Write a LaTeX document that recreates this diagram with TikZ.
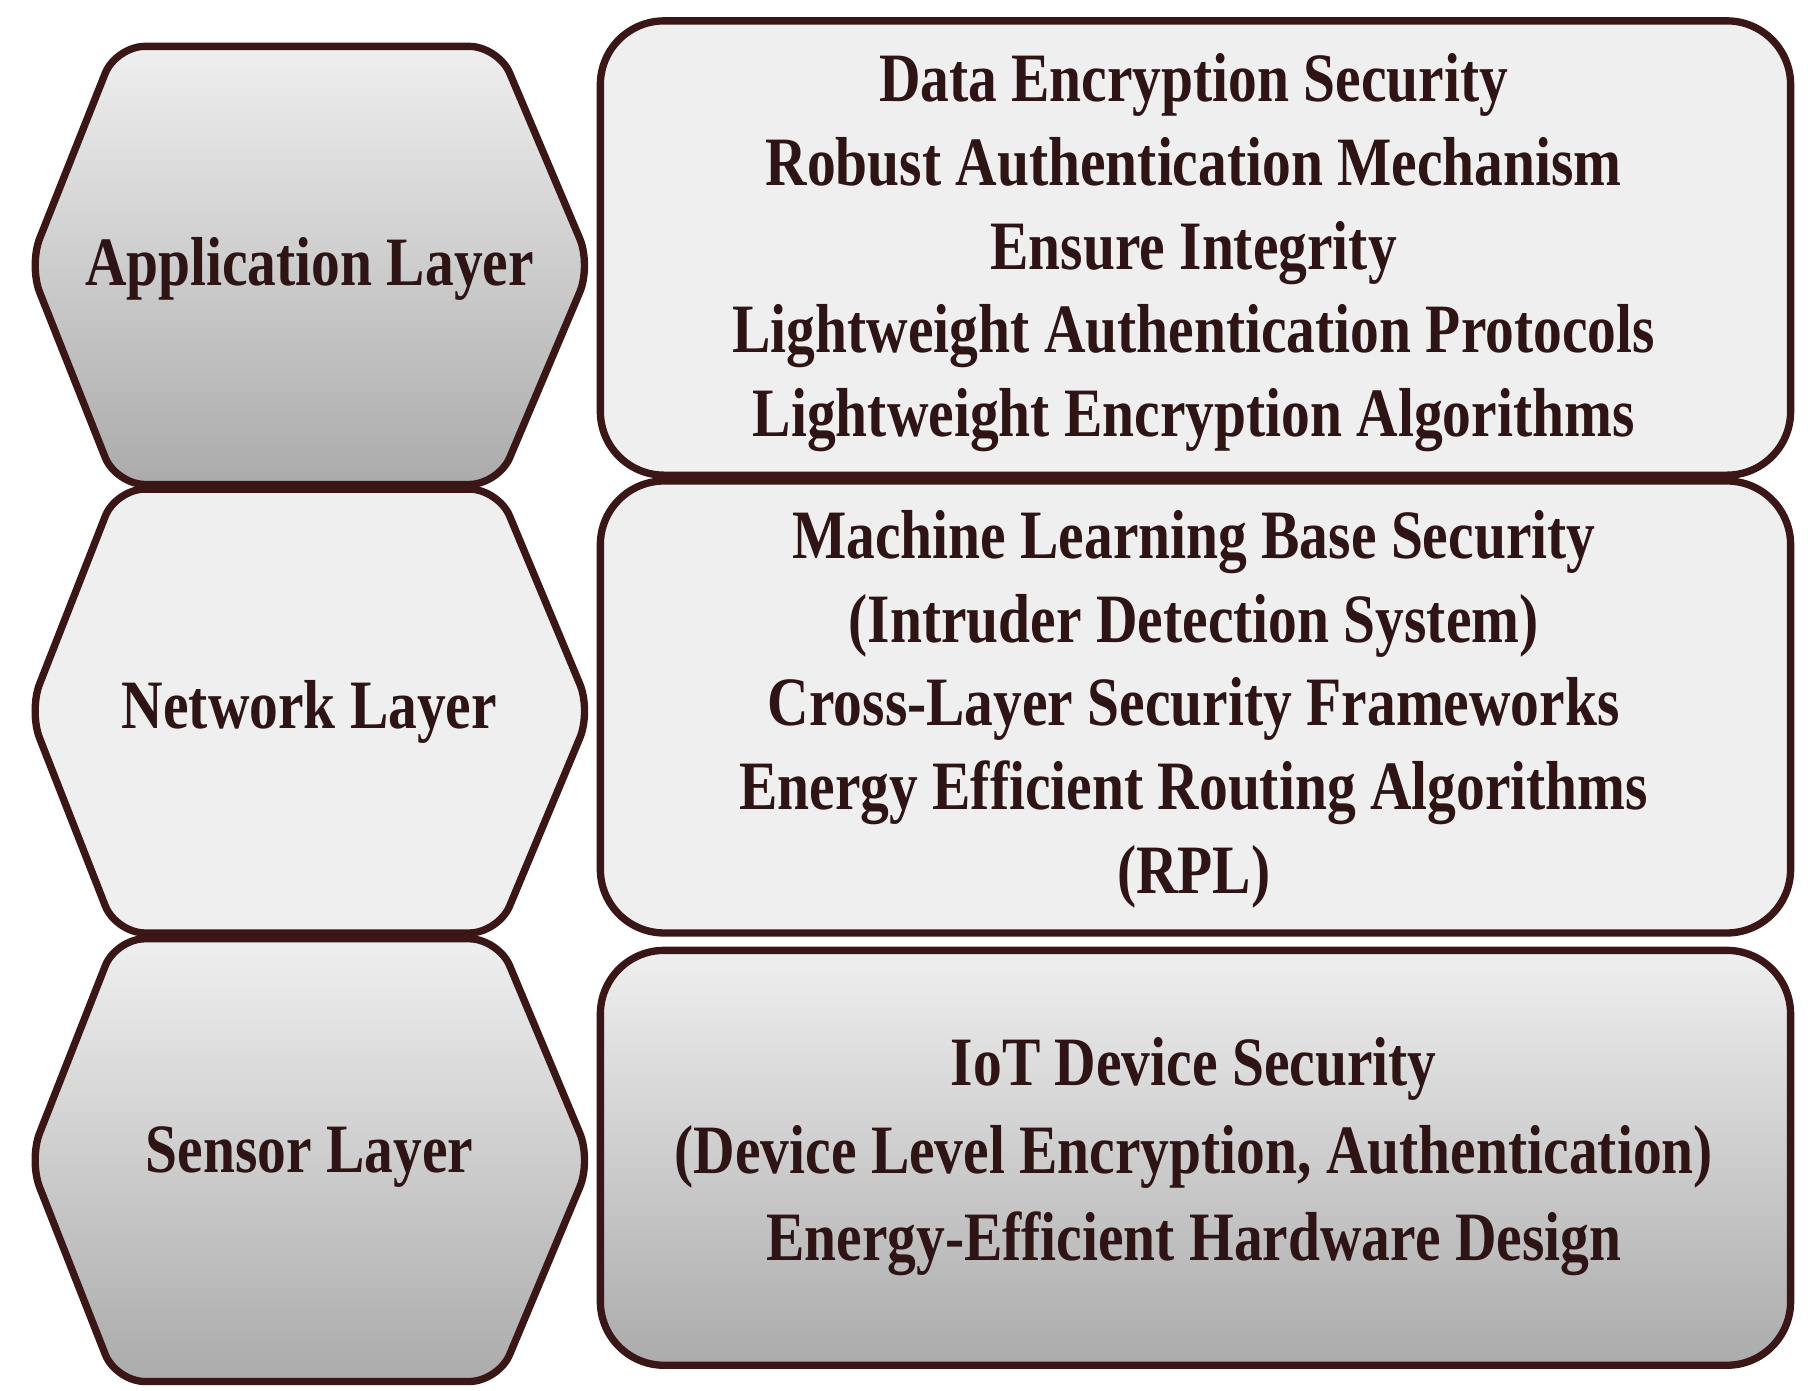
\documentclass[tikz,border=0pt]{standalone}
\usepackage{fontspec}
\setmainfont{Liberation Serif}[FakeStretch=0.83]
\begin{document}
\begin{tikzpicture}[x=0.01cm,y=-0.01cm]
\definecolor{edge}{HTML}{3A1616}
\definecolor{txt}{HTML}{2E1414}
\definecolor{lite}{HTML}{EFEFEF}
\definecolor{dark}{HTML}{ABABAB}
\tikzset{
 shp/.style={draw=edge,line width=1.8pt,line join=round},
 grad/.style={top color=lite,bottom color=dark},
 flat/.style={fill=lite},
 lbl/.style={text=txt,font=\fontsize{17}{21}\selectfont\bfseries,align=center},
 box/.style={shp,rounded corners=0.55cm},
 hex/.style={shp,rounded corners=0.25cm}
}
\useasboundingbox (0,0) rectangle (1560,1200);
\newcommand{\hexa}[3]{%
 \draw[hex,#3] (100,#1) -- (430,#1) -- (510,{(#1+#2)/2}) -- (430,#2) -- (100,#2) -- (25,{(#1+#2)/2}) -- cycle;
}
\hexa{40}{418}{grad}
\hexa{422}{805}{flat}
\hexa{810}{1192}{grad}
\node[lbl] (app) at (267,232) {Application Layer};
\node[lbl] (net) at (267,614) {Network Layer};
\node[lbl] (sen) at (267,998) {Sensor Layer};
\draw[box,flat] (518,18) rectangle (1545,410);
\draw[box,flat] (518,415) rectangle (1545,805);
\draw[box,grad] (518,820) rectangle (1545,1178);
\node[lbl,font=\fontsize{17}{20.5}\selectfont\bfseries] (b1) at (1030,218) {Data Encryption Security\\Robust Authentication Mechanism\\Ensure Integrity\\Lightweight Authentication Protocols\\Lightweight Encryption Algorithms};
\node[lbl,font=\fontsize{17}{20.5}\selectfont\bfseries] (b2) at (1030,612) {Machine Learning Base Security\\(Intruder Detection System)\\Cross-Layer Security Frameworks\\Energy Efficient Routing Algorithms\\(RPL)};
\node[lbl,font=\fontsize{17}{21.5}\selectfont\bfseries] (b3) at (1030,998) {IoT Device Security\\(Device Level Encryption, Authentication)\\Energy-Efficient Hardware Design};
\end{tikzpicture}
\end{document}
